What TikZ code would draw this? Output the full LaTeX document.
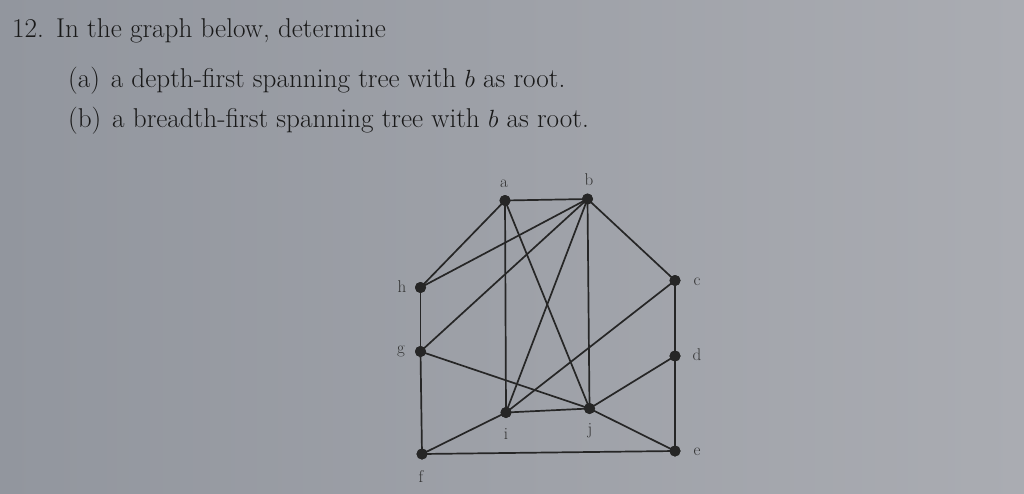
\documentclass[tikz,border=0pt]{standalone}
\usepackage{fontspec}
\begin{document}
\begin{tikzpicture}[x=1pt,y=-1pt,
  vtx/.style={circle,fill=black!85,inner sep=0pt,minimum size=11pt},
  lbl/.style={text=black!80,font=\fontsize{17}{19}\selectfont},
  edge/.style={draw=black!85,line width=1.7pt},
  txt/.style={text=black!90,anchor=base west,inner sep=0pt,font=\fontsize{27.2}{30}\selectfont}]
\shade[left color={rgb,255:red,146;green,150;blue,158},right color={rgb,255:red,170;green,172;blue,178}] (0,0) rectangle (1024,493);
\useasboundingbox (0,0) rectangle (1024,493);
\node[txt] (t1) at (12,37) {12.\hspace{0.45em}In the graph below, determine};
\node[txt] (t2) at (68,87) {(a)\hspace{0.4em}a depth-first spanning tree with $b$ as root.};
\node[txt] (t3) at (68,127) {(b)\hspace{0.4em}a breadth-first spanning tree with $b$ as root.};
\node[vtx] (a) at (505,200.5) {};
\node[vtx] (b) at (587.5,199) {};
\node[vtx] (c) at (675,280.5) {};
\node[vtx] (d) at (675,356) {};
\node[vtx] (e) at (675,451) {};
\node[vtx] (f) at (422,454) {};
\node[vtx] (g) at (420.5,351.5) {};
\node[vtx] (h) at (420.5,287.5) {};
\node[vtx] (i) at (506,412.5) {};
\node[vtx] (j) at (589.5,408.5) {};
\node[lbl] (la) at (504,184) {a};
\node[lbl] (lb) at (589,180) {b};
\node[lbl] (lc) at (697,282) {c};
\node[lbl] (ld) at (697,355) {d};
\node[lbl] (le) at (697,452) {e};
\node[lbl] (lf) at (421,477) {f};
\node[lbl] (lg) at (401,351) {g};
\node[lbl] (lh) at (402,287) {h};
\node[lbl] (li) at (506,434) {i};
\node[lbl] (lj) at (590,431) {j};
\foreach \u/\v in {a/b,a/h,a/i,a/j,b/h,b/g,b/i,b/j,b/c,c/d,d/e,c/i,d/j,g/j,h/g,g/f,f/i,f/e,i/j,j/e}
  \draw[edge] (\u.center) -- (\v.center);
\foreach \n in {a,b,c,d,e,f,g,h,i,j}
  \node[vtx] at (\n) {};
\end{tikzpicture}
\end{document}
